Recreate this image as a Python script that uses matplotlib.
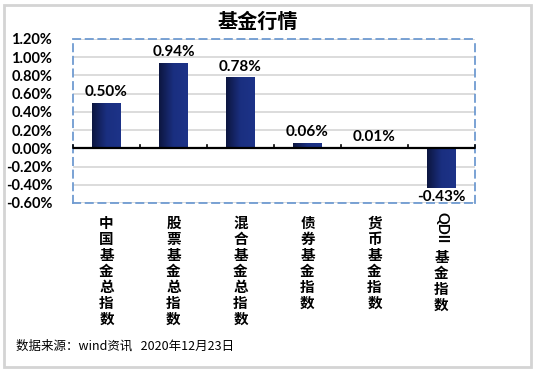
import matplotlib
matplotlib.use("Agg")
import matplotlib.pyplot as plt
import matplotlib.patches as patches
from matplotlib.colors import LinearSegmentedColormap
from matplotlib.transforms import blended_transform_factory
import numpy as np

categories = ["中国基金总指数", "股票基金总指数", "混合基金总指数", "债券基金指数", "货币基金指数", "QDII基金指数"]
values = [0.50, 0.94, 0.78, 0.06, 0.01, -0.43]
yticks = [-0.6, -0.4, -0.2, 0.0, 0.2, 0.4, 0.6, 0.8, 1.0, 1.2]
title = "基金行情"
source = "数据来源：wind资讯   2020年12月23日"

cjk = ["Noto Sans CJK SC", "DejaVu Sans"]
num_font = ["Lato", "DejaVu Sans"]

W, H = 538, 372
fig = plt.figure(figsize=(W / 100, H / 100), dpi=100)
# outer gray frame
fig.patches.append(patches.Rectangle((4 / W, 5 / H), 527 / W, 362 / H, transform=fig.transFigure,
                                     fill=False, edgecolor="#d4d4d4", linewidth=2))

ax = fig.add_axes([73 / W, 1 - 203 / H, 402 / W, 164 / H])
x = np.arange(len(categories))
bars = ax.bar(x, values, width=0.42, color="#17296e", zorder=3)

# left-to-right shading on each bar
cmap = LinearSegmentedColormap.from_list("navy", ["#0c1640", "#1a2f80", "#1d3388"])
grad = np.linspace(0, 1, 64).reshape(1, -1)
for b in bars:
    x0, y0 = b.get_x(), b.get_y()
    im = ax.imshow(grad, extent=[x0, x0 + b.get_width(), y0, y0 + b.get_height()],
                   aspect="auto", cmap=cmap, zorder=3.5, origin="lower")
    im.set_clip_path(b)

ax.set_xlim(-0.5, len(categories) - 0.5)
ax.set_ylim(-0.6, 1.2)
ax.set_yticks(yticks)
ax.set_yticklabels(["%.2f%%" % v for v in yticks], fontsize=10.5, fontweight="bold", family=num_font)
ax.tick_params(axis="y", length=0, pad=15)
ax.set_xticks([])
ax.grid(axis="y", color="#d9d9d9", linewidth=1.3, zorder=0)
for s in ax.spines.values():
    s.set_linestyle((0, (4, 3)))
    s.set_color("#6f9bd1")
    s.set_linewidth(1.3)

# zero line with category separators
ax.axhline(0, color="black", linewidth=1.6, zorder=4)
for b in np.arange(-0.5, len(categories), 1.0):
    ax.plot([b, b], [0, 0.035], color="black", linewidth=1.2, zorder=4, clip_on=False)

for xi, v in zip(x, values):
    if v >= 0:
        ax.text(xi, v + 0.04, "%.2f%%" % v, ha="center", va="bottom", fontsize=11,
                fontweight="bold", family=num_font, zorder=5)
    else:
        ax.text(xi, v - 0.03, "%.2f%%" % v, ha="center", va="top", fontsize=11,
                fontweight="bold", family=num_font, zorder=5)

# vertical category labels below the plot
tr = blended_transform_factory(ax.transData, fig.transFigure)
for xi, name in zip(x, categories):
    if name.startswith("QDII"):
        ax.text(xi, 1 - 212 / H, "QDII", rotation=-90, ha="center", va="top", fontsize=10.5,
                fontweight="bold", family=num_font, transform=tr)
        ax.text(xi, 1 - 249 / H, "\n".join(name[4:]), ha="center", va="top", fontsize=10.5,
                fontweight="bold", family=cjk, transform=tr, linespacing=1.0)
    else:
        ax.text(xi, 1 - 215 / H, "\n".join(name), ha="center", va="top", fontsize=10.5,
                fontweight="bold", family=cjk, transform=tr, linespacing=1.0)

fig.text(258 / W, 1 - 21 / H, title, ha="center", va="center", fontsize=14.5,
         fontweight="bold", family=cjk)
fig.text(16 / W, 1 - 346 / H, source, ha="left", va="center", fontsize=9, family=cjk)

fig.savefig("out.png", dpi=100)
